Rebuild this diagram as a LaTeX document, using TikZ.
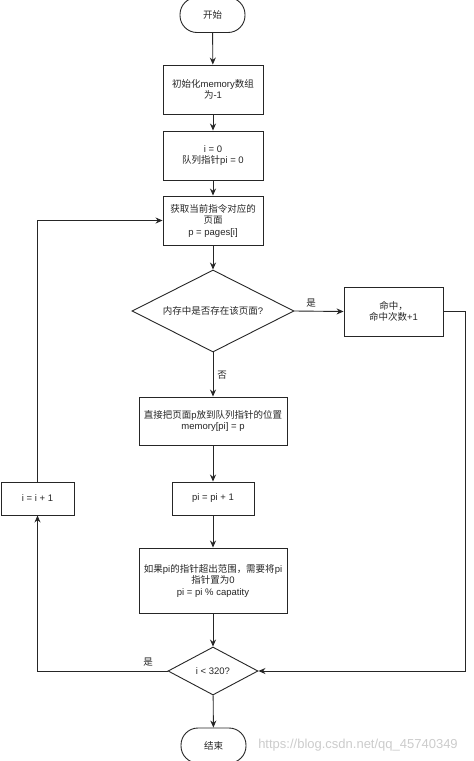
\documentclass[tikz,border=0pt]{standalone}
\usepackage{fontspec}
\setmainfont{Liberation Sans}
\newfontfamily\zhfont{Noto Sans CJK SC}
\newcommand{\zh}[1]{{\zhfont #1}}
\usetikzlibrary{shapes.geometric,arrows.meta,positioning}
\tikzset{
  proc/.style={draw=black!85, line width=0.9pt, text=black!85, align=center, inner sep=1pt,
    font=\fontsize{9.5}{11.5}\selectfont},
  decide/.style={proc, diamond, aspect=2, inner sep=0pt},
  term/.style={proc, rounded corners=17pt, minimum width=65, minimum height=35},
  arr/.style={draw=black!85, line width=0.9pt, -{Stealth[length=7pt,width=6pt]}},
  lbl/.style={text=black!85, font=\fontsize{9.5}{11.5}\selectfont}
}

\begin{document}
\begin{tikzpicture}[x=1pt,y=-1pt]
    \fill[white] (0,0) rectangle (474,761);
    \useasboundingbox (0,0) rectangle (474,761);
    %% main column
    \node[term] (start) at (212.5,15) {\zh{开始}};
    \node[proc, minimum width=100, minimum height=49] (init) at (213,89.5) {\zh{初始化}memory\zh{数组}\\\zh{为}-1};
    \node[proc, minimum width=100, minimum height=49] (zero) at (213,155.5) {i = 0\\\zh{队列指针}pi = 0};
    \node[proc, minimum width=100, minimum height=49] (fetch) at (213,220.5) {\zh{获取当前指令对应的}\\\zh{页面}\\p = pages[i]};
    \node[decide, minimum width=162, minimum height=82] (inmem) at (213,311) {\zh{内存中是否存在该页面}?};
    \node[proc, minimum width=148, minimum height=48] (put) at (213,421) {\zh{直接把页面}p\zh{放到队列指针的位置}\\memory[pi] = p};
    \node[proc, minimum width=82, minimum height=33] (incpi) at (213,498.5) {pi = pi + 1};
    \node[proc, minimum width=148, minimum height=65] (wrap) at (213,580.5) {\zh{如果}pi\zh{的指针超出范围，需要将}pi\\\zh{指针置为}0\\pi = pi \% capatity};
    \node[decide, minimum width=90, minimum height=48] (loop) at (213,671) {i < 320?};
    \node[term] (stop) at (213.5,745.5) {\zh{结束}};
    %% side boxes
    \node[proc, minimum width=99, minimum height=49] (hit) at (393.5,311.5) {\zh{命中，}\\\zh{命中次数}+1};
    \node[proc, minimum width=73, minimum height=33] (inci) at (37.5,498.5) {i = i + 1};
    %% arrows
    \draw[arr] (start) -- (init);
    \draw[arr] (init) -- (zero);
    \draw[arr] (zero) -- (fetch);
    \draw[arr] (fetch) -- (inmem);
    \draw[arr] (inmem) -- (put);
    \draw[arr] (put) -- (incpi);
    \draw[arr] (incpi) -- (wrap);
    \draw[arr] (wrap) -- (loop);
    \draw[arr] (loop) -- (stop);
    \draw[arr] (inmem.east) -- (hit.west);
    \coordinate (rt) at (465,311.5);
    \draw[arr] (hit.east) -- (rt) |- (loop.east);
    \draw[arr] (loop.west) -| (inci.south);
    \draw[arr] (inci.north) |- (fetch.west);
    %% labels
    \node[lbl] (yes1) at (311,303) {\zh{是}};
    \node[lbl] (no1) at (222,375) {\zh{否}};
    \node[lbl] (yes2) at (148,662) {\zh{是}};
    \node[text=gray!40, font=\fontsize{13}{15}\selectfont] (mark) at (358,745) {https://blog.csdn.net/qq\_45740349};
\end{tikzpicture}
\end{document}
